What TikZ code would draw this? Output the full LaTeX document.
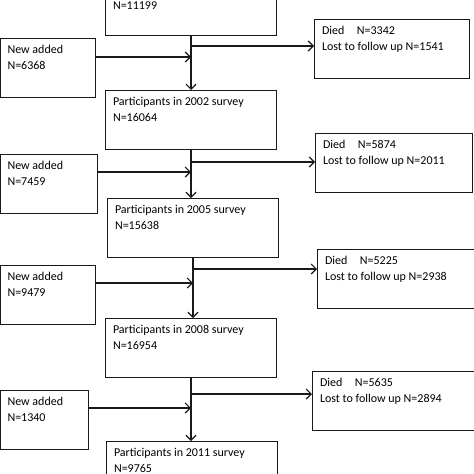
\documentclass[tikz,border=0pt]{standalone}
\usepackage{fontspec}
\setmainfont{Carlito}
\usetikzlibrary{arrows.meta, positioning, calc}
\tikzset{cell/.style 2 args = {
  % Rectangle:
  rectangle,
  draw=black!90, line width=1pt,
  anchor=north west,
  inner xsep=7.5pt, inner ysep=7pt,
  % Text
  font=\fontsize{12}{16}\selectfont,
  execute at begin node={\begin{minipage}[t][#2][t]{#1}},
  execute at end node={\end{minipage}}
  }}
\tikzset{stage/.style = {
  % Rectangle:
  cell={156pt}{45pt}
  % Text
  }}
\tikzset{loss/.style = {cell={#1}{45pt}}, loss/.default=142pt}
\tikzset{added/.style = {cell={#1}{45pt}}, added/.default=80pt}
\tikzset{arrow/.style = {
  -{Straight Barb[length=5pt,width=10pt]},
  line width=1.2pt,
  draw=black!90
  }}
\newcommand{\died}[2]{Died\hspace{12.5pt}N=#1\\Lost to follow up N=#2}

\begin{document}
\begin{tikzpicture}[x=1pt, y=-1pt]
\useasboundingbox (0,0) rectangle (474,474);

% NODES
\node (p1999) [cell={156pt}{27pt}] at (105,-6) {N=11199};
\node (p2002) [stage] at (105,90) {Participants in 2002 survey\\N=16064};
\node (p2005) [stage] at (107,198) {Participants in 2005 survey\\N=15638};
\node (p2008) [stage] at (105,318) {Participants in 2008 survey\\N=16954};
\node (p2011) [stage] at (106,441) {Participants in 2011 survey\\N=9765};

\node (add1) [added] at (-0.5,38) {New added\\N=6368};
\node (add2) [added=82pt] at (-0.5,154) {New added\\N=7459};
\node (add3) [added] at (-0.5,265) {New added\\N=9479};
\node (add4) [added=73pt] at (-0.5,390) {New added\\N=1340};

\node (loss1) [loss=140pt] at (314,19) {\died{3342}{1541}};
\node (loss2) [loss] at (315,133) {\died{5874}{2011}};
\node (loss3) [loss] at (317,249) {\died{5225}{2938}};
\node (loss4) [loss=150pt] at (312,371) {\died{5635}{2894}};

% junctions on the main line
\coordinate (out1) at (p1999.south |- 0,46);
\coordinate (in1) at (p1999.south |- 0,57);
\coordinate (out2) at (p2002.south |- 0,162);
\coordinate (in2) at (p2002.south |- 0,172);
\coordinate (out3) at (p2005.south |- 0,269);
\coordinate (in3) at (p2005.south |- 0,283);
\coordinate (out4) at (p2008.south |- 0,394);
\coordinate (in4) at (p2008.south |- 0,408);

% arrows
\draw [arrow] (p1999.south) -- (p1999.south |- p2002.north);
\draw [arrow] (p2002.south) -- (p2002.south |- p2005.north);
\draw [arrow] (p2005.south) -- (p2005.south |- p2008.north);
\draw [arrow] (p2008.south) -- (p2008.south |- p2011.north);

\draw [arrow] (out1) -- (out1 -| loss1.west);
\draw [arrow] (out2) -- (out2 -| loss2.west);
\draw [arrow] (out3) -- (out3 -| loss3.west);
\draw [arrow] (out4) -- (out4 -| loss4.west);

\draw [arrow] (add1.east |- in1) -- (in1);
\draw [arrow] (add2.east |- in2) -- (in2);
\draw [arrow] (add3.east |- in3) -- (in3);
\draw [arrow] (add4.east |- in4) -- (in4);
\end{tikzpicture}
\end{document}
